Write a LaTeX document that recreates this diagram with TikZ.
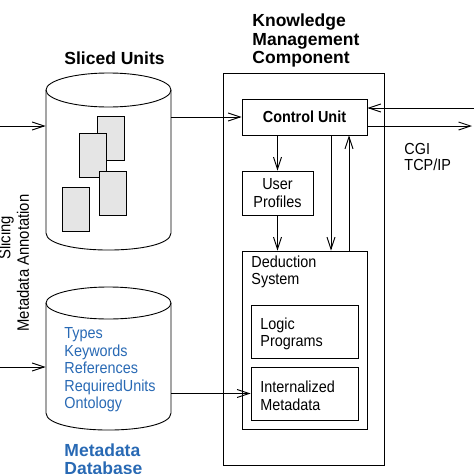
\documentclass[tikz,border=0pt]{standalone}
\usepackage{fontspec}
\setmainfont{Liberation Sans}
\newfontfamily\narrowsf{Liberation Sans}[FakeStretch=0.9]
\usetikzlibrary{arrows.meta}
\definecolor{mdblue}{RGB}{40,105,180}
\begin{document}
\begin{tikzpicture}[x=1pt,y=-1pt,line width=0.9pt,
  >={Straight Barb[length=12pt,width=8pt]},
  box/.style={draw,inner sep=0pt},
  slice/.style={draw,fill=black!10,inner sep=0pt,minimum width=27pt,minimum height=44pt},
  body/.style={font=\narrowsf\fontsize{16}{17.5}\selectfont,inner sep=2pt,align=left},
  title/.style={font=\fontsize{17.5}{18.5}\selectfont\bfseries,inner sep=2pt,align=left},
  ghost/.style={inner sep=0pt}]
\useasboundingbox (0,0) rectangle (474,474);

% ---- Sliced Units cylinder
\node[ghost,minimum width=125pt,minimum height=177pt] (su) at (108.5,161.5) {};
\draw (108.5,90) ellipse [x radius=62.5, y radius=17];
\draw (46,90) -- (46,233) .. controls (46,255.7) and (171,255.7) .. (171,233) -- (171,90);
\node[title,anchor=center] (sut) at (114.5,58) {Sliced Units};
\node[slice] (r1) at (110.5,138) {};
\node[slice] (r2) at (92.5,155.5) {};
\node[slice] (r3) at (112.5,193) {};
\node[slice] (r4) at (75.5,209) {};

% ---- Metadata database cylinder
\node[ghost,minimum width=125pt,minimum height=143pt] (md) at (108.5,358.5) {};
\draw (108.5,303) ellipse [x radius=62.5, y radius=16];
\draw (46,303) -- (46,413) .. controls (46,435.7) and (171,435.7) .. (171,413) -- (171,303);
\node[body,text=mdblue,anchor=west] (mdl) at (62,370) {Types\\Keywords\\References\\RequiredUnits\\Ontology};
\node[title,text=mdblue,anchor=west] (mdt) at (62,459) {Metadata\\Database};

% ---- rotated labels
\node[body,rotate=90,font=\narrowsf\fontsize{16.5}{17}\selectfont] (sl) at (6,238) {Slicing};
\node[body,rotate=90,font=\narrowsf\fontsize{16.5}{17}\selectfont] (ma) at (23,263) {Metadata Annotation};

% ---- Knowledge management component
\node[box,minimum width=161pt,minimum height=392pt] (km) at (303.5,269) {};
\node[title,anchor=west] (kmt) at (250,40.5) {Knowledge\\Management\\Component};
\node[box,minimum width=125pt,minimum height=36pt,font=\narrowsf\fontsize{16}{17}\selectfont\bfseries] (cu) at (304.5,117) {Control Unit};
\node[box,minimum width=71pt,minimum height=44pt,body,align=center] (up) at (277.5,193) {User\\Profiles};
\node[box,minimum width=125pt,minimum height=178pt] (ds) at (304.5,340) {};
\node[body,anchor=west] (dst) at (249,272) {Deduction\\System};
\node[box,minimum width=107pt,minimum height=53pt] (lp) at (304.5,331.5) {};
\node[body,anchor=west] (lpt) at (258,334) {Logic\\Programs};
\node[box,minimum width=107pt,minimum height=53pt] (im) at (304.5,393.5) {};
\node[body,anchor=west] (imt) at (258,396) {Internalized\\Metadata};
\node[body,anchor=west,font=\narrowsf\fontsize{16}{16}\selectfont] (cgi) at (402,157) {CGI\\TCP/IP};

% ---- helper coordinates
\coordinate (in1) at (0,126);
\coordinate (in2) at (0,367);
\coordinate (rin) at (474,108);
\coordinate (rout) at (472,126);
\coordinate (xa) at (331,0);
\coordinate (xb) at (349,0);

% ---- connectors
\draw[->] (in1) -- (in1 -| su.west);
\draw[->] (in2) -- (in2 -| md.west);
\draw[->] (cu.west -| su.east) -- (cu.west);
\draw[->] (im.west -| md.east) -- (im.west);
\draw[->] (rin) -- (rin -| cu.east);
\draw[->] (rout -| cu.east) -- (rout);
\draw[->] (up.north |- cu.south) -- (up.north);
\draw[->] (up.south) -- (up.south |- ds.north);
\draw[->] (cu.south -| xa) -- (ds.north -| xa);
\draw[->] (ds.north -| xb) -- (cu.south -| xb);
\end{tikzpicture}
\end{document}
